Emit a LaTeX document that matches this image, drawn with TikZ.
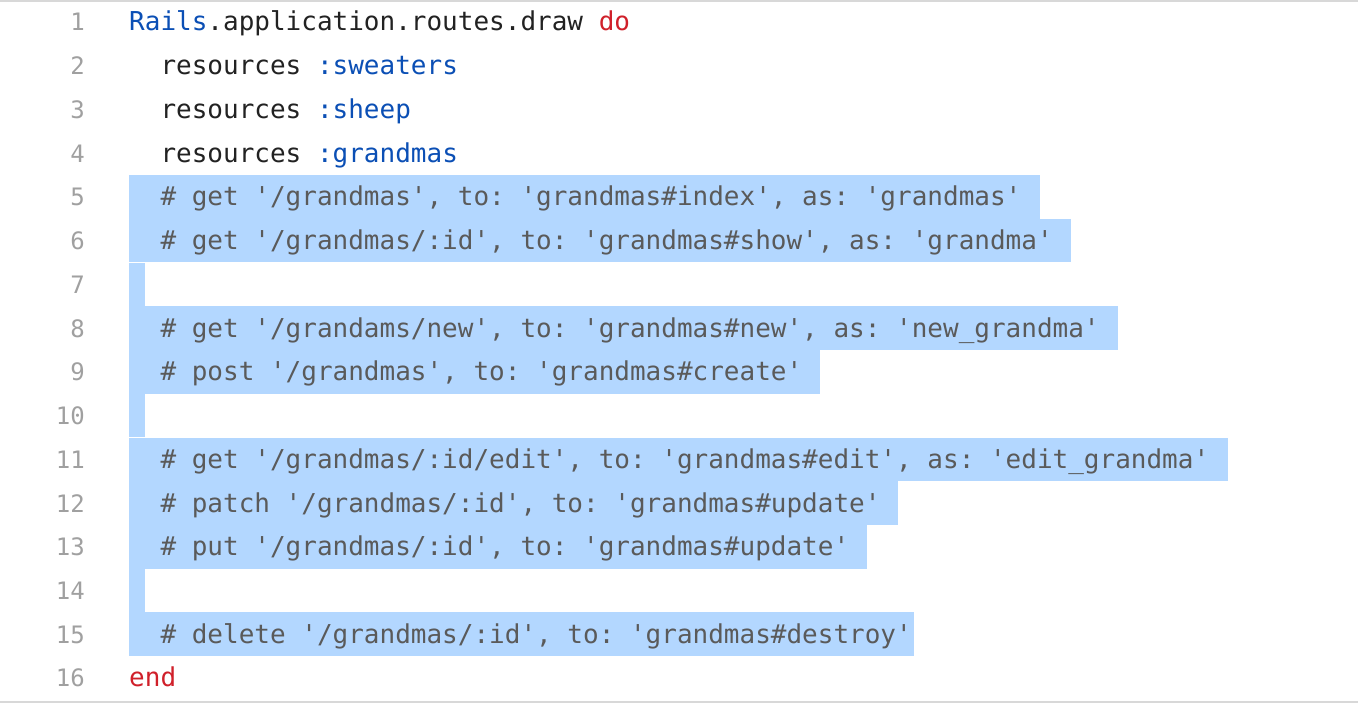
\documentclass[tikz,border=0pt]{standalone}
\usepackage{fontspec}
\setmonofont{DejaVu Sans Mono}
\definecolor{hl}{HTML}{B3D7FF}
\definecolor{kw}{HTML}{0B4FB5}
\definecolor{rd}{HTML}{D0202A}
\definecolor{cm}{HTML}{5A5A5A}
\definecolor{ln}{HTML}{A0A0A0}
\definecolor{tx}{HTML}{222222}
\definecolor{bd}{HTML}{D8D8D8}
\newcommand{\cw}{15.7}
\newcommand{\lh}{43.73}
\tikzset{code/.style={anchor=base west,inner sep=0pt,font=\fontsize{26}{30}\selectfont\ttfamily,text=tx},
 num/.style={anchor=base east,inner sep=0pt,font=\fontsize{24}{30}\selectfont\ttfamily,text=ln}}
\newcommand{\hlrow}[2]{\fill[hl] (129,{-(22+(#1-1)*\lh)+21.8}) rectangle ({129+#2*\cw},{-(22+(#1-1)*\lh)-21.8});}
\begin{document}
\begin{tikzpicture}[x=1pt,y=1pt]
\useasboundingbox (0,0) rectangle (1358,-703);
\fill[white] (0,0) rectangle (1358,-703);
\draw[bd,line width=1.5pt] (0,-1) -- (1358,-1);
\draw[bd,line width=1.5pt] (0,-702) -- (1358,-702);
% highlights
\hlrow{5}{58}
\hlrow{6}{60}
\hlrow{7}{1}
\hlrow{8}{63}
\hlrow{9}{44}
\hlrow{10}{1}
\hlrow{11}{70}
\hlrow{12}{49}
\hlrow{13}{47}
\hlrow{14}{1}
\hlrow{15}{50}
\foreach \i in {1,...,16}{\node[num] (n\i) at (85,{-(22+(\i-1)*\lh)-9}) {\i};}
\node[code] (c1) at (129,{-22-9}) {\textcolor{kw}{Rails}.application.routes.draw \textcolor{rd}{do}};
\node[code] (c2) at (129,{-(22+1*\lh)-9}) {\ \ resources \textcolor{kw}{:sweaters}};
\node[code] (c3) at (129,{-(22+2*\lh)-9}) {\ \ resources \textcolor{kw}{:sheep}};
\node[code] (c4) at (129,{-(22+3*\lh)-9}) {\ \ resources \textcolor{kw}{:grandmas}};
\node[code,text=cm] (c5) at (129,{-(22+4*\lh)-9}) {\ \ \# get '/grandmas', to: 'grandmas\#index', as: 'grandmas'};
\node[code,text=cm] (c6) at (129,{-(22+5*\lh)-9}) {\ \ \# get '/grandmas/:id', to: 'grandmas\#show', as: 'grandma'};
\node[code,text=cm] (c8) at (129,{-(22+7*\lh)-9}) {\ \ \# get '/grandams/new', to: 'grandmas\#new', as: 'new\_grandma'};
\node[code,text=cm] (c9) at (129,{-(22+8*\lh)-9}) {\ \ \# post '/grandmas', to: 'grandmas\#create'};
\node[code,text=cm] (c11) at (129,{-(22+10*\lh)-9}) {\ \ \# get '/grandmas/:id/edit', to: 'grandmas\#edit', as: 'edit\_grandma'};
\node[code,text=cm] (c12) at (129,{-(22+11*\lh)-9}) {\ \ \# patch '/grandmas/:id', to: 'grandmas\#update'};
\node[code,text=cm] (c13) at (129,{-(22+12*\lh)-9}) {\ \ \# put '/grandmas/:id', to: 'grandmas\#update'};
\node[code,text=cm] (c15) at (129,{-(22+14*\lh)-9}) {\ \ \# delete '/grandmas/:id', to: 'grandmas\#destroy'};
\node[code,text=rd] (c16) at (129,{-(22+15*\lh)-9}) {end};
\end{tikzpicture}
\end{document}
